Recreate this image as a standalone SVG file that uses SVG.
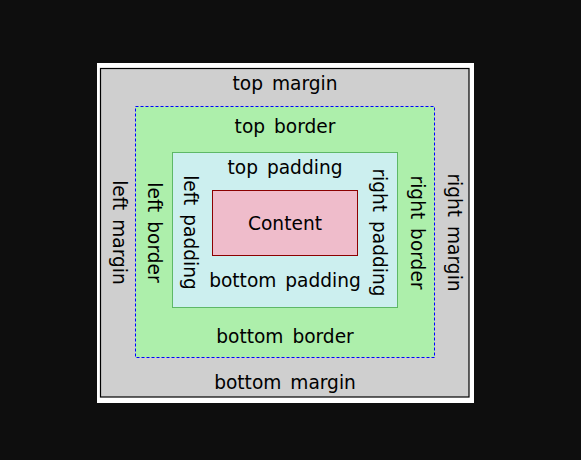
<svg xmlns="http://www.w3.org/2000/svg" width="581" height="460" viewBox="0 0 581 460">
<style>
text{font-family:"DejaVu Sans",sans-serif;font-size:18.6px;fill:#000;text-anchor:middle;word-spacing:3px}
</style>
<rect width="581" height="460" fill="#0e0e0e"/>
<g id="frame"><rect x="97" y="63" width="377" height="340" fill="#ffffff"/></g>
<g id="margin">
<rect x="100.5" y="68.5" width="368.5" height="328.5" fill="#cfcfcf" stroke="#000" stroke-width="1.2"/>
<text x="285" y="90">top margin</text>
<text x="285" y="389">bottom margin</text>
<text transform="translate(113,232.5) rotate(90)">left margin</text>
<text transform="translate(448,232.5) rotate(90)">right margin</text>
</g>
<g id="border">
<rect x="135.5" y="106.5" width="299" height="251" fill="#adefab" stroke="#0000ff" stroke-width="1" stroke-dasharray="3,2"/>
<text x="285" y="133">top border</text>
<text x="285" y="343">bottom border</text>
<text transform="translate(148,232.5) rotate(90)">left border</text>
<text transform="translate(411,232.5) rotate(90)">right border</text>
</g>
<g id="padding">
<rect x="172.5" y="152.5" width="225" height="155" fill="#ccefef" stroke="#008000" stroke-width="1" stroke-dasharray="1,1"/>
<text x="285" y="174">top padding</text>
<text x="285" y="287">bottom padding</text>
<text transform="translate(184,232.5) rotate(90)">left padding</text>
<text transform="translate(373,232.5) rotate(90)">right padding</text>
</g>
<g id="content">
<rect x="212.5" y="190.5" width="145" height="65" fill="#efbccb" stroke="#8b0000" stroke-width="1"/>
<text x="285" y="230">Content</text>
</g>
<g id="connectors"></g>
</svg>
